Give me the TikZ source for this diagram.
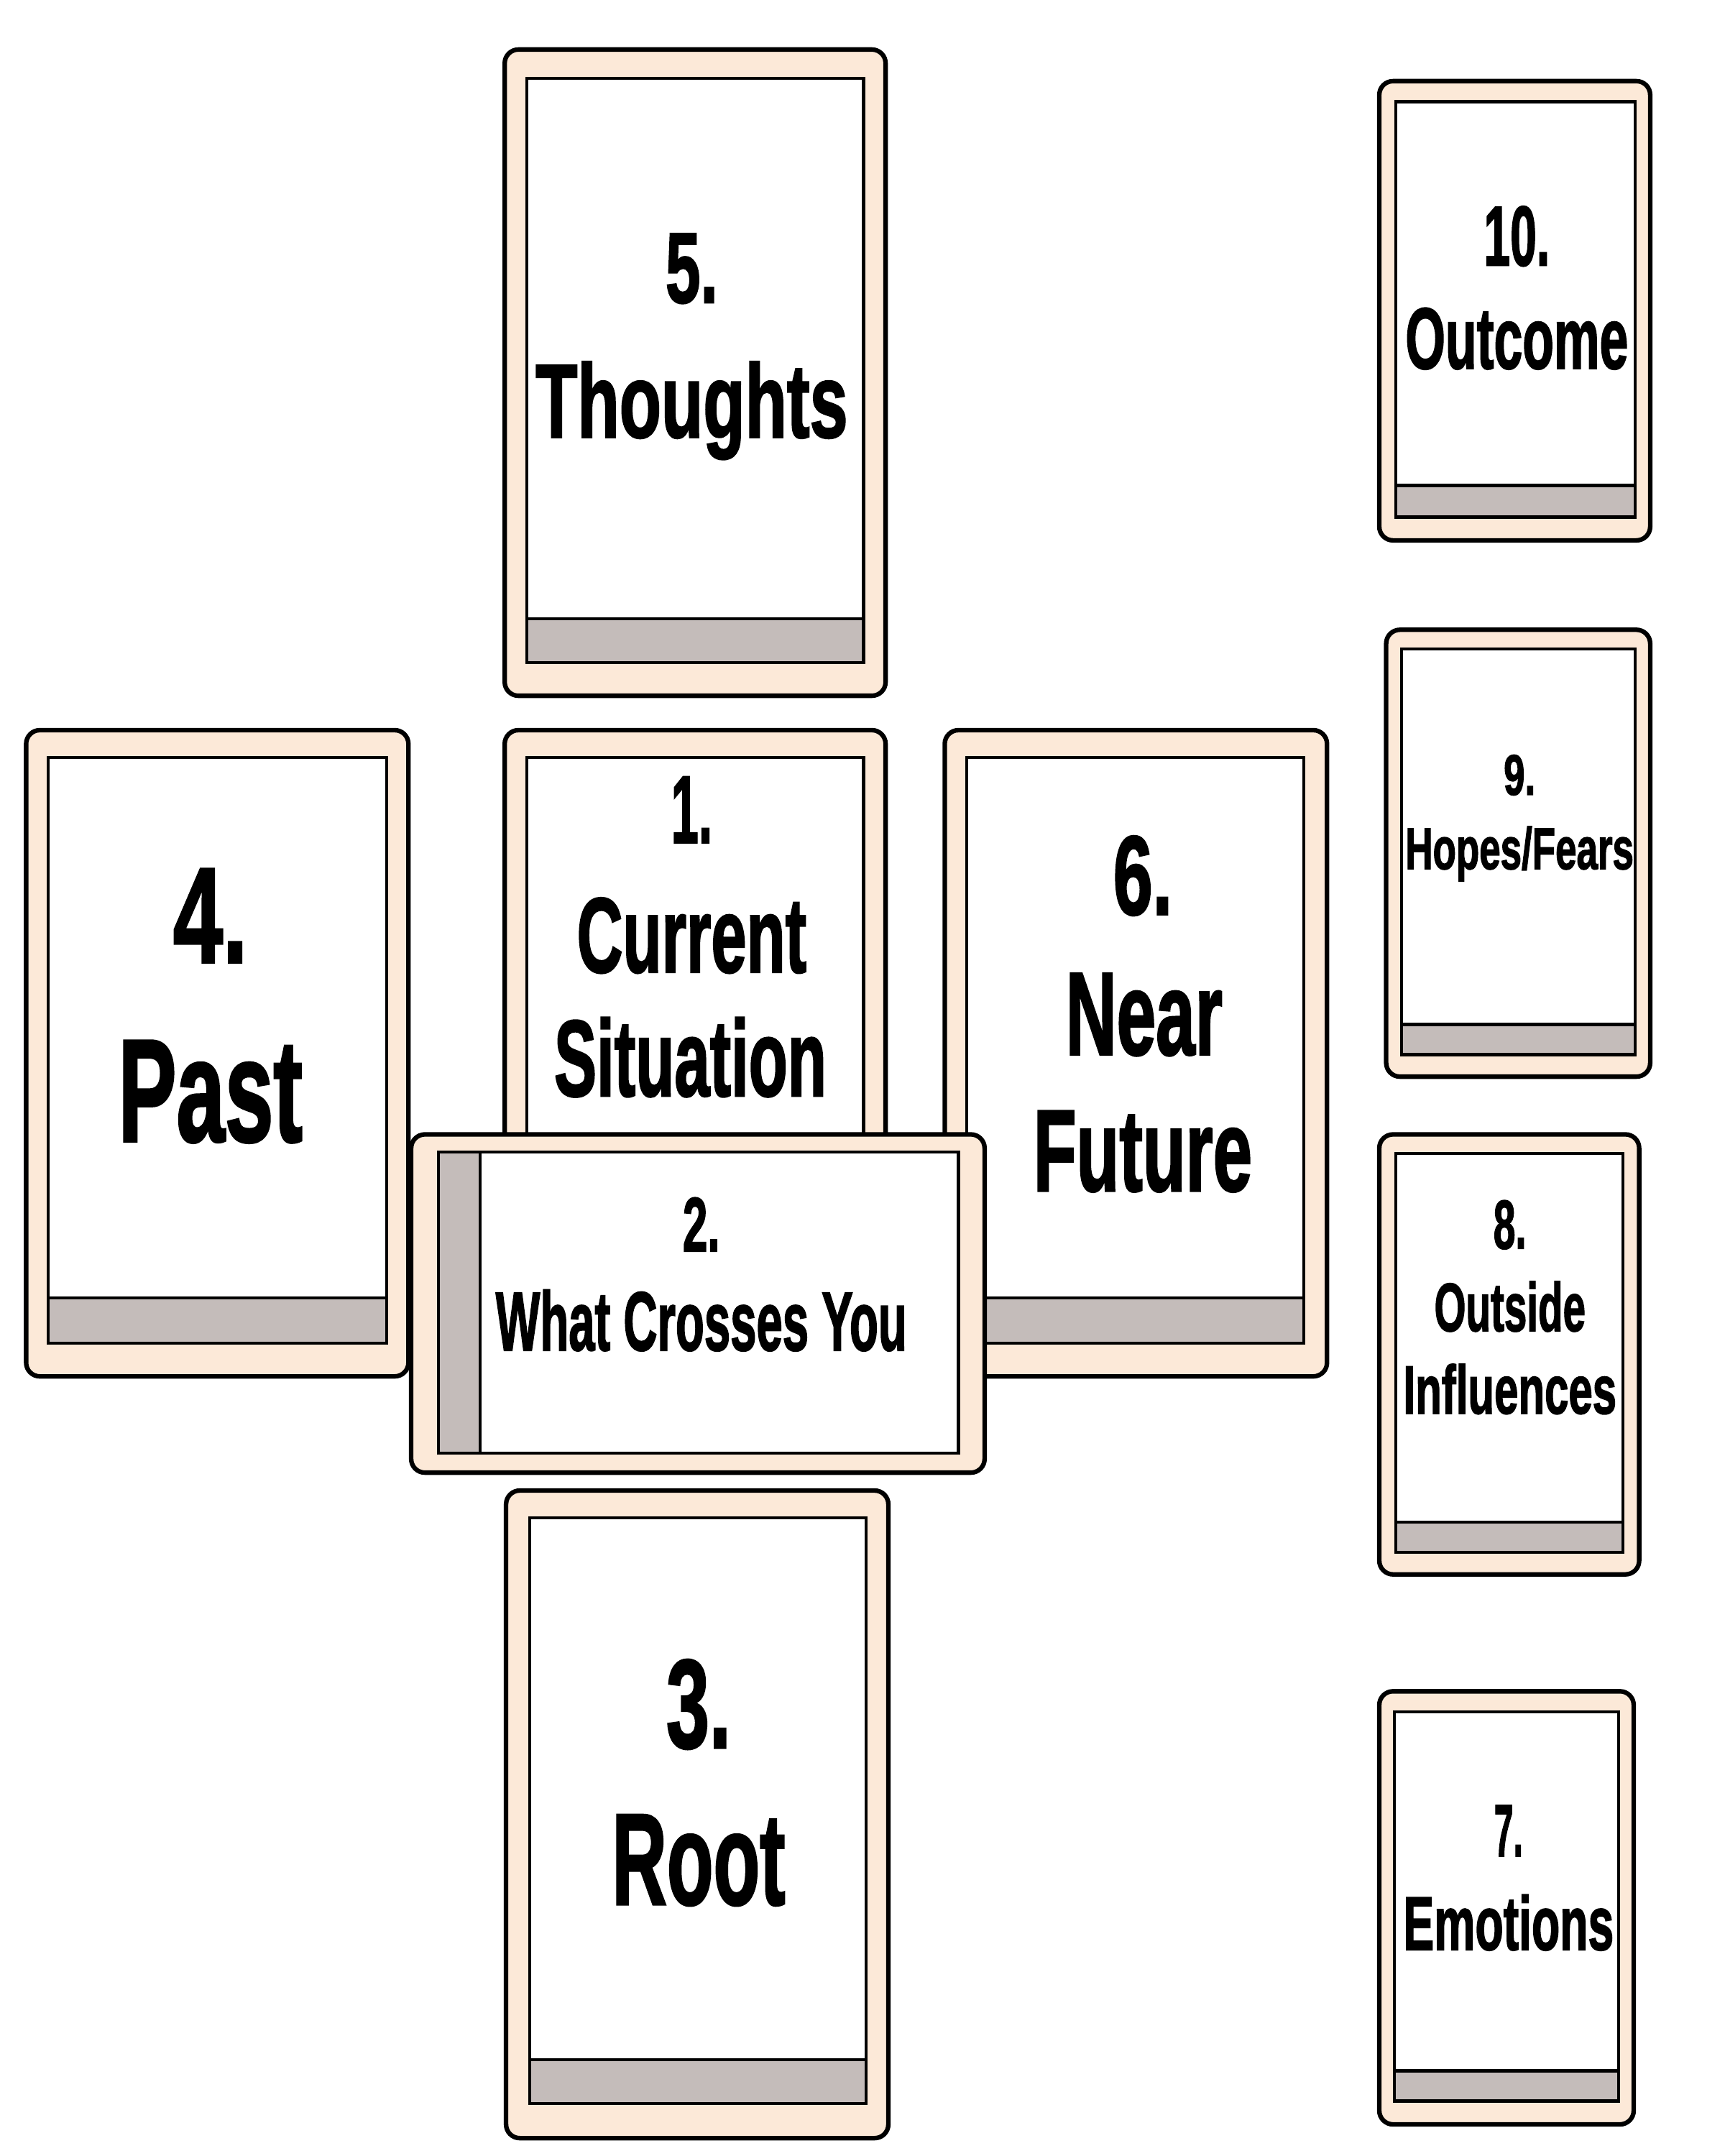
\documentclass[tikz,border=0pt]{standalone}
\usepackage{fontspec}
\usepackage{graphicx}
\usetikzlibrary{fit,positioning}
\setmainfont{Liberation Sans}[BoldFeatures={FakeBold=2}]
\definecolor{cardbg}{HTML}{FCE9D8}
\definecolor{stripbg}{HTML}{C4BCBA}
\tikzset{
  card/.style={draw=black, line width=0.33mm, fill=cardbg, rounded corners=1mm, inner sep=0pt},
  face/.style={draw=black, line width=0.22mm, fill=white, inner sep=0pt},
  strip/.style={draw=black, line width=0.22mm, fill=stripbg, inner sep=0pt},
  lbl/.style={anchor=base, inner sep=0pt, font=\bfseries},
}
% squeeze one line of text to a given width and cap height (in mm)
\newcommand{\fitline}[3]{\resizebox{#1mm}{#2mm}{#3}}

\begin{document}
\begin{tikzpicture}[x=0.1mm, y=-0.1mm]
    \useasboundingbox (0,0) rectangle (1254,1568);
    % right column
    \node[card, fit={(1003,59) (1200,393)}] (c10) {};
    \node[face, fit={(1015,74) (1189,376)}] (c10f) {};
    \node[strip, fit={(1015,353) (1189,376)}] (c10s) {};
    \node[lbl] (c10n) at (1103,193) {\fitline{4.8}{4.3}{10.}};
    \node[lbl] (c10t) at (1103,268) {\fitline{16.2}{4.4}{Outcome}};

    \node[card, fit={(1008,458) (1200,783)}] (c9) {};
    \node[face, fit={(1019,472) (1189,767)}] (c9f) {};
    \node[strip, fit={(1019,745) (1189,767)}] (c9s) {};
    \node[lbl] (c9n) at (1105,578) {\fitline{2.3}{2.9}{9.}};
    \node[lbl] (c9t) at (1105,632) {\fitline{16.6}{3.1}{Hopes/Fears}};

    \node[card, fit={(1003,825) (1192,1145)}] (c8) {};
    \node[face, fit={(1015,839) (1180,1129)}] (c8f) {};
    \node[strip, fit={(1015,1107) (1180,1129)}] (c8s) {};
    \node[lbl] (c8n) at (1098,908) {\fitline{2.4}{3.5}{8.}};
    \node[lbl] (c8t) at (1098,968) {\fitline{11.0}{3.6}{Outside}};
    \node[lbl] (c8u) at (1098,1028) {\fitline{15.5}{3.6}{Influences}};

    \node[card, fit={(1003,1230) (1188,1545)}] (c7) {};
    \node[face, fit={(1014,1245) (1177,1528)}] (c7f) {};
    \node[strip, fit={(1014,1506) (1177,1528)}] (c7s) {};
    \node[lbl] (c7n) at (1097,1350) {\fitline{2.1}{3.7}{7.}};
    \node[lbl] (c7t) at (1097,1418) {\fitline{15.3}{4.0}{Emotions}};

    % the cross
    \node[card, fit={(367,36) (644,506)}] (c5) {};
    \node[face, fit={(383,57) (628,482)}] (c5f) {};
    \node[strip, fit={(383,450) (628,482)}] (c5s) {};
    \node[lbl] (c5n) at (503,220) {\fitline{3.8}{5.0}{5.}};
    \node[lbl] (c5t) at (503,318) {\fitline{22.7}{5.5}{Thoughts}};

    \node[card, fit={(19,531) (297,1001)}] (c4) {};
    \node[face, fit={(35,551) (281,977)}] (c4f) {};
    \node[strip, fit={(35,944) (281,977)}] (c4s) {};
    \node[lbl] (c4n) at (153,700) {\fitline{5.4}{6.8}{4.}};
    \node[lbl] (c4t) at (153,830) {\fitline{13.4}{7.3}{Past}};

    \node[card, fit={(367,531) (644,1001)}] (c1) {};
    \node[face, fit={(383,551) (628,977)}] (c1f) {};
    \node[strip, fit={(383,944) (628,977)}] (c1s) {};
    \node[lbl] (c1n) at (503,613) {\fitline{3.0}{4.8}{1.}};
    \node[lbl] (c1t) at (503,707) {\fitline{16.7}{5.4}{Current}};
    \node[lbl] (c1u) at (502,797) {\fitline{19.8}{5.7}{Situation}};

    \node[card, fit={(687,531) (965,1001)}] (c6) {};
    \node[face, fit={(703,551) (948,977)}] (c6f) {};
    \node[strip, fit={(703,944) (948,977)}] (c6s) {};
    \node[lbl] (c6n) at (831,665) {\fitline{4.3}{5.7}{6.}};
    \node[lbl] (c6t) at (832,767) {\fitline{11.4}{5.9}{Near}};
    \node[lbl] (c6u) at (831,866) {\fitline{15.9}{5.8}{Future}};

    \node[card, fit={(368,1084) (646,1555)}] (c3) {};
    \node[face, fit={(385,1104) (630,1530)}] (c3f) {};
    \node[strip, fit={(385,1498) (630,1530)}] (c3s) {};
    \node[lbl] (c3n) at (508,1271) {\fitline{4.7}{6.4}{3.}};
    \node[lbl] (c3t) at (508,1385) {\fitline{12.6}{6.5}{Root}};

    % crossing card on top
    \node[card, fit={(299,825) (716,1071)}] (c2) {};
    \node[face, fit={(319,838) (697,1057)}] (c2f) {};
    \node[strip, fit={(319,838) (349,1057)}] (c2s) {};
    \node[lbl] (c2n) at (510,910) {\fitline{2.7}{3.9}{2.}};
    \node[lbl] (c2t) at (510,982) {\fitline{29.9}{4.4}{What Crosses You}};
\end{tikzpicture}
\end{document}
